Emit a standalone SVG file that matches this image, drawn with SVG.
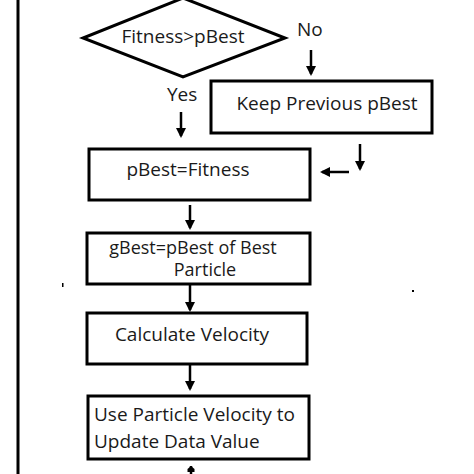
<svg xmlns="http://www.w3.org/2000/svg" width="474" height="474" viewBox="0 0 474 474">
<style>
.box{fill:#fff;stroke:#000;stroke-width:3}
.t{font-family:"Open Sans","Liberation Sans",sans-serif;font-size:19px;fill:#1a1a1a}
.s{font-size:18px}
.c{stroke:#000;stroke-width:2.5;fill:none}
</style>
<defs>
<marker id="ah" markerWidth="4" markerHeight="4" refX="3.2" refY="2" orient="auto" markerUnits="strokeWidth">
<path d="M0,0 L4,2 L0,4 z" fill="#000"/>
</marker>
</defs>
<rect width="474" height="474" fill="#fff"/>
<line x1="18" y1="0" x2="18" y2="474" stroke="#000" stroke-width="3"/>
<g id="decision">
<polygon class="box" points="183,-2 285,38 183,77 83,38"/>
<text class="t" x="183" y="43" text-anchor="middle">Fitness&gt;pBest</text>
</g>
<g id="keep">
<rect class="box" x="211" y="81" width="221" height="52"/>
<text class="t" x="327" y="110" text-anchor="middle">Keep Previous pBest</text>
</g>
<g id="pbest">
<rect class="box" x="89" y="149" width="221" height="51"/>
<text class="t" x="188" y="176" text-anchor="middle">pBest=Fitness</text>
</g>
<g id="gbest">
<rect class="box" x="87" y="233" width="223" height="51"/>
<text class="t s" x="193" y="254" text-anchor="middle">gBest=pBest of Best</text>
<text class="t s" x="205" y="276" text-anchor="middle">Particle</text>
</g>
<g id="velocity">
<rect class="box" x="87" y="313" width="220" height="51"/>
<text class="t" x="192" y="341" text-anchor="middle">Calculate Velocity</text>
</g>
<g id="update">
<rect class="box" x="88" y="396" width="221" height="63"/>
<text class="t" x="94" y="421">Use Particle Velocity to</text>
<text class="t" x="94" y="448">Update Data Value</text>
</g>
<g id="labels">
<text class="t" x="297" y="36">No</text>
<text class="t" x="167" y="101">Yes</text>
</g>
<g id="connectors">
<line class="c" x1="311" y1="50" x2="311" y2="74" marker-end="url(#ah)"/>
<line class="c" x1="181" y1="112" x2="181" y2="136" marker-end="url(#ah)"/>
<line class="c" x1="360" y1="144" x2="360" y2="169" marker-end="url(#ah)"/>
<line class="c" x1="349" y1="172" x2="322" y2="172" marker-end="url(#ah)"/>
<line class="c" x1="190" y1="205" x2="190" y2="228" marker-end="url(#ah)"/>
<line class="c" x1="190" y1="284" x2="190" y2="310" marker-end="url(#ah)"/>
<line class="c" x1="190" y1="364" x2="190" y2="389" marker-end="url(#ah)"/>
<line class="c" x1="191" y1="466" x2="191" y2="474"/>
<path d="M187.5,469 L191,466 L194.5,469 L194.5,472 L187.5,472 z" fill="#000"/>
</g>
<rect x="62" y="283" width="1.5" height="4" fill="#000"/>
<rect x="412" y="290" width="2" height="2" fill="#000"/>
</svg>
